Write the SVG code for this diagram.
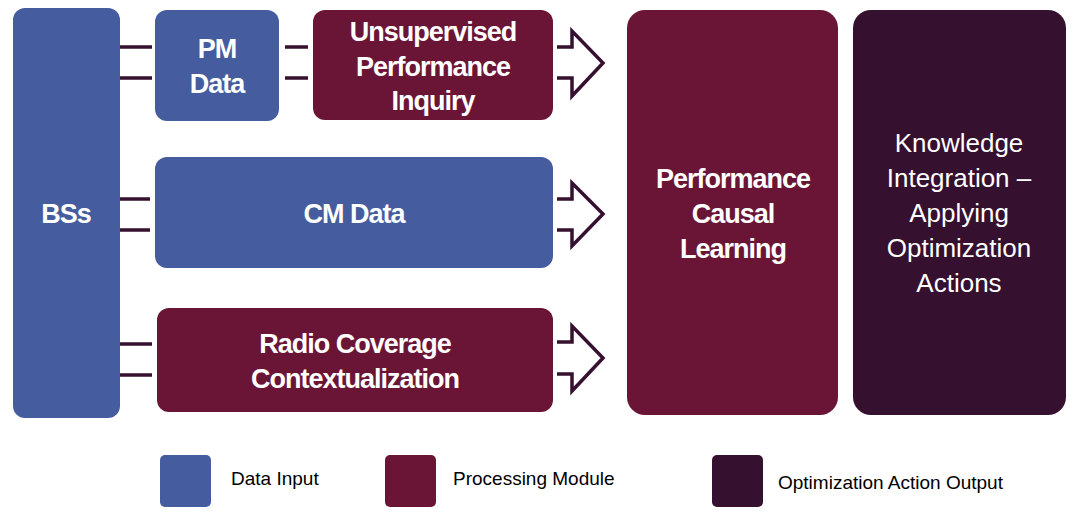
<svg xmlns="http://www.w3.org/2000/svg" width="1092" height="514" viewBox="0 0 1092 514">
<style>
.d{fill:#455d9e}.p{fill:#6a1535}.o{fill:#36102f}
.t{font-family:"Liberation Sans",Arial,sans-serif;fill:#fff;text-anchor:middle}
.b{font-weight:bold;font-size:27px;letter-spacing:-1px}
.n{font-size:26px}
.l{font-family:"Liberation Sans",Arial,sans-serif;fill:#000;font-size:19px}
.c{stroke:#36102f;stroke-width:3.5;fill:none}
</style>
<rect width="1092" height="514" fill="#fff"/>
<g id="connectors" class="c">
<path d="M120 47H152M120 78H152M285 47H308M285 78H308M120 199H150M120 230H150M120 344H152M120 375H152"/>
<path d="M557 47H572V31L603 63L572 96V78H557"/>
<path d="M557 199H572V183L603 214L572 246V230H557"/>
<path d="M557 342H572V326L603 358L572 391V374H557"/>
</g>
<g id="bss"><rect class="d" x="13" y="8" width="107" height="410" rx="12"/><text class="t b" x="66" y="223">BSs</text></g>
<g id="pm"><rect class="d" x="155" y="10" width="124" height="111" rx="12"/><text class="t b" x="217" y="58">PM</text><text class="t b" x="217" y="93">Data</text></g>
<g id="upi"><rect class="p" x="313" y="10" width="240" height="110" rx="12"/><text class="t b" x="433" y="41">Unsupervised</text><text class="t b" x="433" y="76">Performance</text><text class="t b" x="433" y="110">Inquiry</text></g>
<g id="cm"><rect class="d" x="155" y="157" width="398" height="111" rx="12"/><text class="t b" x="354" y="223">CM Data</text></g>
<g id="rcc"><rect class="p" x="157" y="308" width="396" height="104" rx="12"/><text class="t b" x="355" y="353">Radio Coverage</text><text class="t b" x="355" y="388">Contextualization</text></g>
<g id="pcl"><rect class="p" x="627" y="10" width="211" height="405" rx="18"/><text class="t b" x="733" y="188">Performance</text><text class="t b" x="733" y="223">Causal</text><text class="t b" x="733" y="258">Learning</text></g>
<g id="ki"><rect class="o" x="853" y="10" width="213" height="405" rx="18"/><text class="t n" x="959" y="152">Knowledge</text><text class="t n" x="959" y="187">Integration –</text><text class="t n" x="959" y="222">Applying</text><text class="t n" x="959" y="257">Optimization</text><text class="t n" x="959" y="292">Actions</text></g>
<g id="legend">
<rect class="d" x="160" y="455" width="51" height="52" rx="5"/><text class="l" x="231" y="485">Data Input</text>
<rect class="p" x="385" y="455" width="51" height="52" rx="5"/><text class="l" x="453" y="485">Processing Module</text>
<rect class="o" x="712" y="455" width="51" height="52" rx="5"/><text class="l" x="778" y="489">Optimization Action Output</text>
</g>
</svg>
